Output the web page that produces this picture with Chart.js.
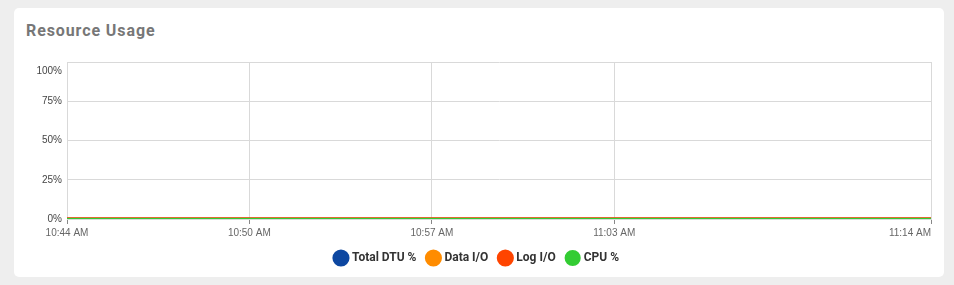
<!DOCTYPE html>
<html lang="en">
<head>
    <meta charset="UTF-8">
    <title>Resource Usage</title>
    <script src="https://cdn.jsdelivr.net/npm/chart.js"></script>
    <style>
        html, body {
            margin: 0;
            padding: 0;
            background: #eeeeee;
            overflow: hidden;
        }
        .card {
            position: absolute;
            left: 14px;
            top: 8px;
            width: 930px;
            height: 269px;
            background: #fff;
            border-radius: 5px;
        }
        .card h2 {
            position: absolute;
            left: 12px;
            top: 13px;
            margin: 0;
            font-family: Roboto, Arial, sans-serif;
            font-size: 16px;
            font-weight: bold;
            letter-spacing: 0.9px;
            color: #777;
        }
        .chart-box {
            position: absolute;
            left: 0;
            top: 30px;
            width: 930px;
            height: 237px;
        }
    </style>
</head>
<body>
    <div class="card">
        <h2>Resource Usage</h2>
        <div class="chart-box"><canvas id="usageChart"></canvas></div>
    </div>

    <script>
        // sample times, minutes after 10:44 AM
        const minutes = [0, 1, 2, 3, 4, 5, 6, 7, 8, 9, 10, 11, 12, 13, 14, 15,
            16, 17, 18, 19, 20, 21, 22, 23, 24, 25, 26, 27, 28, 29, 30];
        const totalDtu = [0, 0, 0, 0, 0, 0, 0, 0, 0, 0, 0, 0, 0, 0, 0, 0,
            0, 0, 0, 0, 0, 0, 0, 0, 0, 0, 0, 0, 0, 0, 0];
        const dataIo = [0, 0, 0, 0, 0, 0, 0, 0, 0, 0, 0, 0, 0, 0, 0, 0,
            0, 0, 0, 0, 0, 0, 0, 0, 0, 0, 0, 0, 0, 0, 0];
        const logIo = [0, 0, 0, 0, 0, 0, 0, 0, 0, 0, 0, 0, 0, 0, 0, 0,
            0, 0, 0, 0, 0, 0, 0, 0, 0, 0, 0, 0, 0, 0, 0];
        const cpu = [0, 0, 0, 0, 0, 0, 0, 0, 0, 0, 0, 0, 0, 0, 0, 0,
            0, 0, 0, 0, 0, 0, 0, 0, 0, 0, 0, 0, 0, 0, 0];

        // x tick positions (minutes) and their labels; first entry is an empty spacer
        const xTickMinutes = [0, 0, 6.33, 12.67, 19, 30];
        const xTickLabels = ['', '10:44 AM', '10:50 AM', '10:57 AM', '11:03 AM', '11:14 AM'];
        const yTicks = [0, 25, 50, 75, 100];

        const toPoints = arr => arr.map((v, i) => ({ x: minutes[i], y: v }));

        function line(label, values, color, width, order) {
            return {
                label: label,
                data: toPoints(values),
                borderColor: color,
                backgroundColor: color,
                borderWidth: width,
                pointRadius: 0,
                fill: false,
                order: order
            };
        }

        new Chart(document.getElementById('usageChart'), {
            type: 'line',
            data: {
                datasets: [
                    line('Total DTU %', totalDtu, '#0d47a1', 3, 4),
                    line('Data I/O', dataIo, '#ff8c00', 3, 3),
                    line('Log I/O', logIo, '#ff4500', 3, 2),
                    line('CPU %', cpu, '#33cc33', 2, 1)
                ]
            },
            options: {
                responsive: true,
                maintainAspectRatio: false,
                animation: false,
                layout: { padding: { left: 10, right: 13, top: 24, bottom: 1 } },
                plugins: {
                    tooltip: { enabled: false },
                    legend: {
                        position: 'bottom',
                        labels: {
                            usePointStyle: true,
                            pointStyle: 'circle',
                            boxWidth: 10,
                            boxHeight: 10,
                            padding: 12,
                            color: '#333',
                            font: { family: 'Roboto', size: 12, weight: 'bold' },
                            sort: (a, b) => a.datasetIndex - b.datasetIndex
                        }
                    }
                },
                scales: {
                    x: {
                        type: 'linear',
                        min: 0,
                        max: 30,
                        afterBuildTicks: scale => {
                            scale.ticks = xTickMinutes.map(v => ({ value: v }));
                        },
                        afterFit: scale => { scale.height -= 2; },
                        grid: {
                            color: '#d9d9d9',
                            tickColor: '#888',
                            tickLength: 5
                        },
                        border: { color: '#d9d9d9' },
                        ticks: {
                            autoSkip: false,
                            maxRotation: 0,
                            align: 'inner',
                            padding: 3,
                            color: '#666',
                            font: { family: 'Arial', size: 10 },
                            callback: (v, i) => xTickLabels[i]
                        }
                    },
                    y: {
                        min: 0,
                        max: 100,
                        afterBuildTicks: scale => {
                            scale.ticks = yTicks.map(v => ({ value: v }));
                        },
                        afterFit: scale => { scale.width = 43; },
                        grid: { color: '#d9d9d9', drawTicks: false },
                        border: { color: '#d9d9d9' },
                        ticks: {
                            autoSkip: false,
                            padding: 5,
                            color: '#444',
                            font: c => ({
                                family: 'Arial',
                                size: 10,
                                lineHeight: c.tick && c.tick.value === 100 ? 1.8 : 1.2
                            }),
                            callback: v => v === 100 ? ['', v + '%'] : v + '%'
                        }
                    }
                }
            }
        });
    </script>
</body>
</html>
